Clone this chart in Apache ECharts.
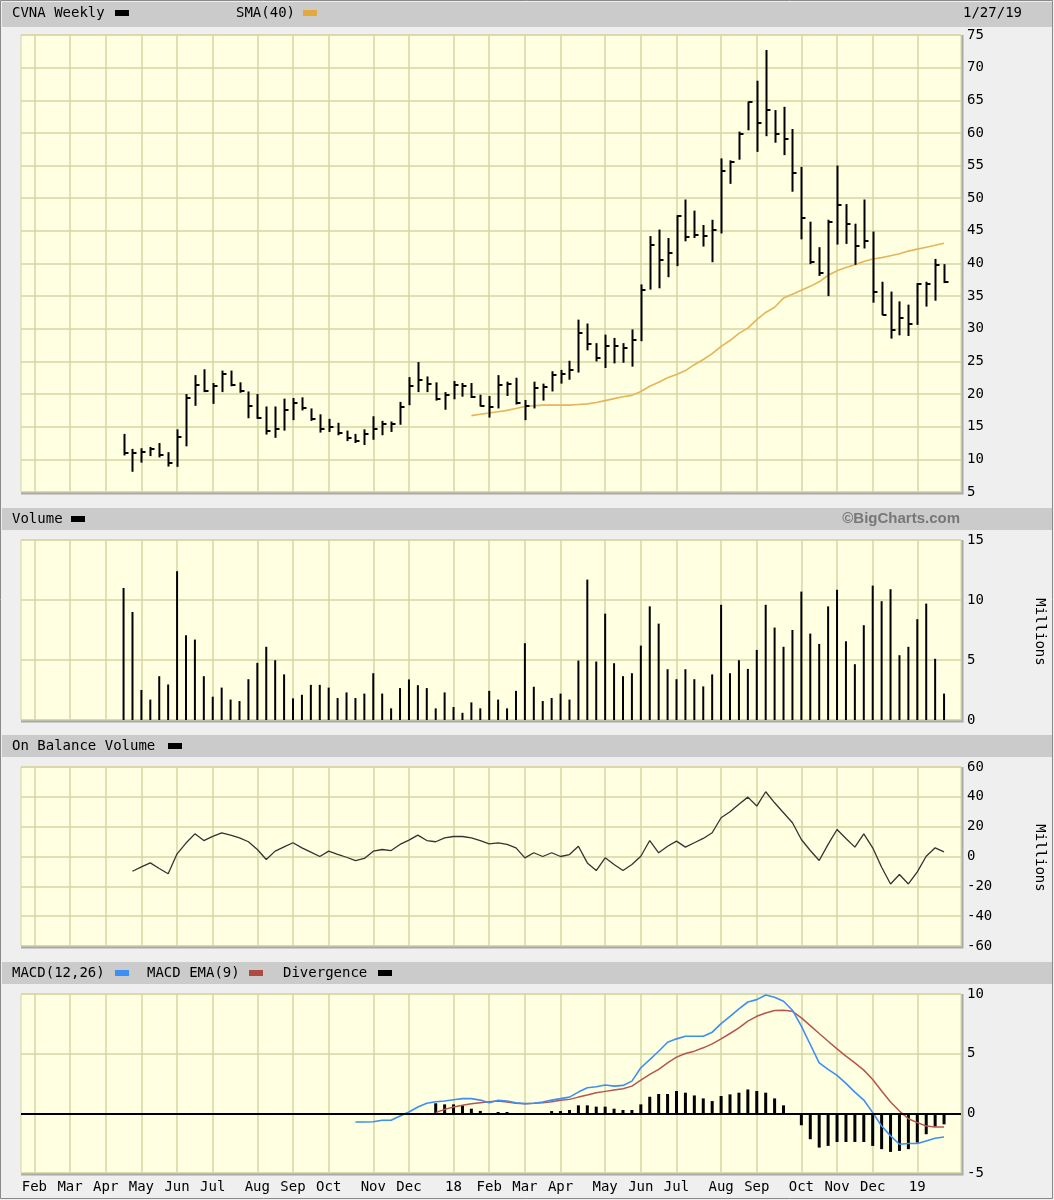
<!DOCTYPE html>
<html><head><meta charset="utf-8">
<script src="https://cdn.jsdelivr.net/npm/echarts@6/dist/echarts.min.js"></script>
<style>html,body{margin:0;padding:0;background:#efefef}#c{width:1054px;height:1200px}</style>
</head><body><div id="c"></div>
<script>
// ---- Data (weekly bars, index 0 = week of Apr 24 2017) ----
const monthTicks = [-10,-6,-2,2,6,10,15,19,23,28,32,37,41,45,49,54,58,62,67,71,76,80,84,89];
const monthLabels = ['Feb','Mar','Apr','May','Jun','Jul','Aug','Sep','Oct','Nov','Dec','18','Feb','Mar','Apr','May','Jun','Jul','Aug','Sep','Oct','Nov','Dec','19'];

const highs = [13.9,11.6,11.7,11.9,12.5,11.1,14.6,20.0,22.9,23.8,21.7,23.6,23.6,21.8,20.4,20.0,18.1,18.1,19.3,19.4,
19.5,17.8,16.9,16.2,15.6,14.4,13.9,14.6,16.6,15.9,15.8,18.8,22.6,24.9,22.7,21.8,20.3,22.0,21.7,21.7,
19.9,19.7,22.9,21.9,22.5,19.1,21.9,21.6,23.5,23.7,25.1,31.4,30.8,27.8,29.1,28.6,27.8,29.9,36.8,44.2,
45.2,43.9,47.4,49.8,48.1,45.9,46.7,56.1,55.8,60.2,64.8,68.0,72.7,63.5,64.0,60.6,54.8,46.4,42.5,46.7,
55.0,49.1,46.1,49.8,44.9,37.2,35.7,34.2,33.7,37.0,37.2,40.7,39.9];
const lows = [10.6,8.1,9.5,10.5,10.3,8.9,8.85,12.0,18.2,20.3,18.5,20.3,21.2,20.2,16.3,16.2,13.8,13.3,14.4,16.0,
17.5,15.9,14.1,14.2,13.7,12.8,12.5,12.2,13.0,13.7,14.2,15.3,18.3,20.3,20.3,19.0,17.6,19.2,19.6,19.4,
18.1,16.4,17.8,19.7,18.4,16.0,17.8,19.0,20.4,21.6,22.2,23.3,26.7,25.0,24.0,24.7,24.8,24.2,28.1,36.0,
36.2,37.9,39.6,43.4,43.9,42.6,40.2,44.6,52.2,55.9,60.4,57.1,59.5,58.5,56.6,51.0,43.7,39.9,38.1,35.0,
42.9,43.0,39.8,42.3,34.0,32.1,28.5,29.0,28.9,30.6,33.4,34.3,37.0];
const closes = [10.9,11.05,11.15,11.6,10.6,9.5,13.4,19.4,21.4,20.5,21.2,23.1,21.4,20.4,18.2,16.3,14.4,14.7,17.5,18.7,
17.8,16.2,14.6,14.9,14.0,13.2,12.8,13.9,14.6,15.4,15.4,18.0,21.2,22.1,21.6,19.3,19.8,21.4,21.2,19.6,
18.2,18.0,21.4,21.6,18.6,18.1,21.0,21.1,22.9,23.1,23.7,29.3,27.6,25.5,27.3,27.3,27.1,28.3,36.0,42.9,
40.5,41.6,47.2,44.0,44.4,44.2,45.2,54.1,55.5,59.9,64.7,61.5,63.5,59.9,59.1,53.9,46.9,40.3,38.6,46.3,
49.0,46.1,42.7,43.4,35.7,32.1,29.8,31.6,30.8,36.8,36.8,39.8,37.1];

const smaStart = 39;
const sma40 = [16.7,16.9,17.1,17.3,17.5,17.8,18.1,18.2,18.3,18.3,18.3,18.3,18.4,18.5,18.7,19.0,19.3,19.6,19.8,20.4,
21.2,21.8,22.5,23.0,23.6,24.5,25.3,26.2,27.3,28.2,29.3,30.1,31.4,32.5,33.3,34.7,35.3,35.9,36.5,37.2,
38.2,38.9,39.4,39.8,40.3,40.7,40.9,41.2,41.5,41.9,42.2,42.5,42.8,43.1];

const volume = [11.0,9.0,2.5,1.7,3.65,2.96,12.4,7.06,6.7,3.65,1.94,2.7,1.7,1.58,3.4,4.76,6.1,4.98,3.8,1.8,
2.1,2.93,2.93,2.7,1.83,2.3,1.83,2.2,3.9,2.2,0.97,2.66,3.38,2.9,2.66,0.97,2.3,1.08,0.6,1.47,
0.97,2.43,1.7,0.97,2.43,6.4,2.77,1.58,1.83,2.2,1.7,4.95,11.7,4.87,8.86,4.73,3.65,3.9,6.2,9.47,
8.03,4.23,3.4,4.23,3.4,2.8,3.8,9.6,3.9,4.98,4.26,5.84,9.6,7.7,6.1,7.5,10.7,7.2,6.34,9.47,
10.85,6.56,4.65,7.9,11.2,9.9,10.9,5.4,6.1,8.4,9.7,5.1,2.2];

const obvStart = 1;
const obv = [-9.9,-7,-4.3,-8,-11.6,1.8,9,15.2,10.7,13.5,15.9,14.3,12.5,9.9,4.7,-2.0,3.6,6.5,9.2,5.8,
2.9,0,3.6,1.5,-0.5,-2.7,-1.3,3.6,4.7,4.0,8.1,11,14.3,10.7,9.9,12.5,13.4,13.4,12.5,10.7,
8.5,9.2,8.1,5.8,-0.9,2.5,0,2.5,0,1.3,6.9,-4.3,-9.4,-0.9,-5.4,-9.4,-5.4,0.2,10.7,2.5,
6.9,10.3,6.3,9.2,12.1,15.9,26,30,35,39.8,33.8,43.4,36,29.3,22.6,11.4,4.0,-2.7,8.1,18.1,
12.1,6.3,15.2,5.8,-7.2,-18.4,-12.1,-18.4,-10.3,0.2,5.8,3.1];

const macdStart = 26;
const macd = [-0.72,-0.72,-0.7,-0.58,-0.58,-0.22,0.11,0.53,0.84,0.97,1.03,1.14,1.23,1.23,1.11,0.89,1.09,1.03,0.89,0.81,
0.84,0.95,1.11,1.23,1.36,1.78,2.14,2.23,2.37,2.28,2.34,2.7,3.82,4.5,5.2,5.96,6.24,6.46,6.46,6.46,
6.8,7.52,8.13,8.75,9.33,9.53,9.92,9.72,9.39,8.64,7.3,5.77,4.23,3.68,3.18,2.51,1.78,1.11,0.06,-1.06,
-1.89,-2.59,-2.53,-2.53,-2.31,-2.09,-1.98];

const signalStart = 35;
const macdEma9 = [0.06,0.33,0.53,0.67,0.81,0.89,0.97,1.03,0.95,0.84,0.81,0.84,0.89,0.97,1.09,1.17,1.36,1.53,1.73,1.84,
1.95,2.06,2.28,2.79,3.26,3.68,4.23,4.71,5.01,5.21,5.49,5.82,6.24,6.69,7.16,7.72,8.13,8.41,8.61,8.64,
8.55,8.0,7.35,6.69,6.04,5.4,4.79,4.23,3.62,2.84,1.87,0.95,0.19,-0.45,-0.78,-1.06,-1.14,-1.14];
const divergence = [0.84,0.75,0.75,0.67,0.39,0.2,null,0.11,0.11,null,-0.1,null,null,0.19,0.19,0.28,0.67,0.67,0.56,0.56,
0.39,0.28,0.28,0.75,1.39,1.62,1.62,1.87,1.73,1.5,1.25,1.03,1.45,1.59,1.73,2.0,1.87,1.73,1.25,0.67,
null,-1.0,-2.17,-2.87,-2.73,-2.4,-2.4,-2.4,-2.4,-2.73,-3.0,-3.23,-3.15,-3.0,-2.45,-1.75,-1.11,-0.92];

// ---- build ----
const pairs = (arr, start) => arr.map((v, i) => [start + i, v]);
const hlc = highs.map((h, i) => [i, h, lows[i], closes[i]]);
const labelMap = {};
monthTicks.forEach((t, i) => labelMap[t] = monthLabels[i]);

const FONT = 'DejaVu Sans Mono';
const GRID_L = 21, GRID_R = 93;
const XMIN = -11.5, XMAX = 93.9;
const gridLine = {show: true, lineStyle: {color: '#d6d6a2', width: 1.5}};
const grids = [
  {top: 35, height: 457},
  {top: 540, height: 180},
  {top: 767, height: 179},
  {top: 994, height: 179}
].map(g => Object.assign({left: GRID_L, right: GRID_R, show: true, backgroundColor: '#ffffe2', borderColor: '#d6d6a2', borderWidth: 1}, g));

const xAxes = grids.map((g, i) => ({
  type: 'value', gridIndex: i, min: XMIN, max: XMAX,
  axisLine: {show: false},
  axisTick: {show: false, customValues: monthTicks},
  splitLine: gridLine,
  axisLabel: i === 3 ? {show: true, customValues: monthTicks, formatter: v => labelMap[Math.round(v)] || '',
    color: '#000', fontFamily: FONT, fontSize: 14, margin: 7} : {show: false, customValues: monthTicks}
}));
const yBase = (i, min, max, interval) => ({
  type: 'value', gridIndex: i, position: 'right', min, max, interval,
  axisLine: {show: false}, axisTick: {show: false},
  splitLine: gridLine,
  axisLabel: {color: '#000', fontFamily: FONT, fontSize: 14, margin: 6, align: 'left'}
});
const yAxes = [yBase(0, 5, 75, 5), yBase(1, 0, 15, 5), yBase(2, -60, 60, 20), yBase(3, -5, 10, 5)];

function hlcItem(params, api) {
  const x = api.value(0);
  const pH = api.coord([x, api.value(1)]);
  const pL = api.coord([x, api.value(2)]);
  const pC = api.coord([x, api.value(3)]);
  const cx = Math.round(pH[0]) + 0.5;
  return {type: 'group', children: [
    {type: 'line', shape: {x1: cx, y1: pH[1], x2: cx, y2: pL[1]}, style: {stroke: '#000', lineWidth: 2}},
    {type: 'line', shape: {x1: cx, y1: Math.round(pC[1]), x2: cx + 4, y2: Math.round(pC[1])}, style: {stroke: '#000', lineWidth: 2}}
  ]};
}

// header / decoration graphics
const headers = [[2, 25], [508, 22], [735, 22], [962, 22]];
const graphic = [];
graphic.push({type: 'rect', shape: {x: 0.5, y: 0.5, width: 1052, height: 1198}, style: {fill: null, stroke: '#8a8a8a', lineWidth: 1}, z: 100});
headers.forEach(h => graphic.push({type: 'rect', shape: {x: 2, y: h[0], width: 1050, height: h[1]}, style: {fill: '#cbcbcb'}, z: -1}));
const txt = (x, y, s, extra) => Object.assign({type: 'text', x, y, style: Object.assign({text: s, fill: '#000', font: '14px ' + FONT, textVerticalAlign: 'middle'}, extra || {})}, {});
const sw = (x, y, c) => ({type: 'rect', shape: {x, y: y - 3, width: 14, height: 6}, style: {fill: c}});
graphic.push(txt(12, 13, 'CVNA Weekly'), sw(115, 13, '#000'));
graphic.push(txt(236, 13, 'SMA(40)'), sw(303, 13, '#e3a93c'));
graphic.push(txt(1022, 13, '1/27/19', {textAlign: 'right'}));
graphic.push(txt(12, 519, 'Volume'), sw(71, 519, '#000'));
graphic.push(txt(960, 519, '\u00a9BigCharts.com', {textAlign: 'right', fill: '#777', font: 'bold 15px "Liberation Sans"'}));
graphic.push(txt(12, 746, 'On Balance Volume'), sw(168, 746, '#000'));
graphic.push(txt(12, 973, 'MACD(12,26)'), sw(115, 973, '#3d8ef5'));
graphic.push(txt(147, 973, 'MACD EMA(9)'), sw(249, 973, '#b04a40'));
graphic.push(txt(283, 973, 'Divergence'), sw(378, 973, '#000'));
graphic.push({type: 'text', x: 1040, y: 632, rotation: -Math.PI / 2, style: {text: 'Millions', fill: '#000', font: '14px ' + FONT, textAlign: 'center', textVerticalAlign: 'middle'}});
graphic.push({type: 'text', x: 1040, y: 858, rotation: -Math.PI / 2, style: {text: 'Millions', fill: '#000', font: '14px ' + FONT, textAlign: 'center', textVerticalAlign: 'middle'}});
// plot frame shadows (right/bottom)
grids.forEach(g => {
  const x2 = 1054 - GRID_R, y2 = g.top + g.height;
  graphic.push({type: 'polyline', shape: {points: [[GRID_L, y2 + 1.5], [x2 + 1.5, y2 + 1.5], [x2 + 1.5, g.top]]}, style: {stroke: '#a9a9a9', lineWidth: 2, fill: null}, z: 50});
});

const chart = echarts.init(document.getElementById('c'), null, {renderer: 'canvas'});
chart.setOption({
  backgroundColor: '#efefef',
  animation: false,
  grid: grids,
  xAxis: xAxes,
  yAxis: yAxes,
  graphic,
  series: [
    {type: 'custom', name: 'CVNA Weekly', xAxisIndex: 0, yAxisIndex: 0, renderItem: hlcItem, data: hlc, encode: {x: 0, y: [1, 2, 3]}, z: 5},
    {type: 'line', name: 'SMA(40)', xAxisIndex: 0, yAxisIndex: 0, data: pairs(sma40, smaStart), showSymbol: false, lineStyle: {color: '#e6b45a', width: 1.6}, z: 4},
    {type: 'bar', name: 'Volume', xAxisIndex: 1, yAxisIndex: 1, data: pairs(volume, 0), barWidth: 2, itemStyle: {color: '#000'}},
    {type: 'line', name: 'On Balance Volume', xAxisIndex: 2, yAxisIndex: 2, data: pairs(obv, obvStart), showSymbol: false, lineStyle: {color: '#333', width: 1.3}},
    {type: 'bar', name: 'Divergence', xAxisIndex: 3, yAxisIndex: 3, data: pairs(divergence, signalStart), barWidth: 3, itemStyle: {color: '#000'},
      markLine: {silent: true, symbol: 'none', label: {show: false}, lineStyle: {color: '#000', width: 2, type: 'solid'}, data: [{yAxis: 0}]}},
    {type: 'line', name: 'MACD EMA(9)', xAxisIndex: 3, yAxisIndex: 3, data: pairs(macdEma9, signalStart), showSymbol: false, lineStyle: {color: '#b5564c', width: 1.5}},
    {type: 'line', name: 'MACD(12,26)', xAxisIndex: 3, yAxisIndex: 3, data: pairs(macd, macdStart), showSymbol: false, lineStyle: {color: '#3d8ef5', width: 1.6}}
  ]
});
</script>
</body></html>
